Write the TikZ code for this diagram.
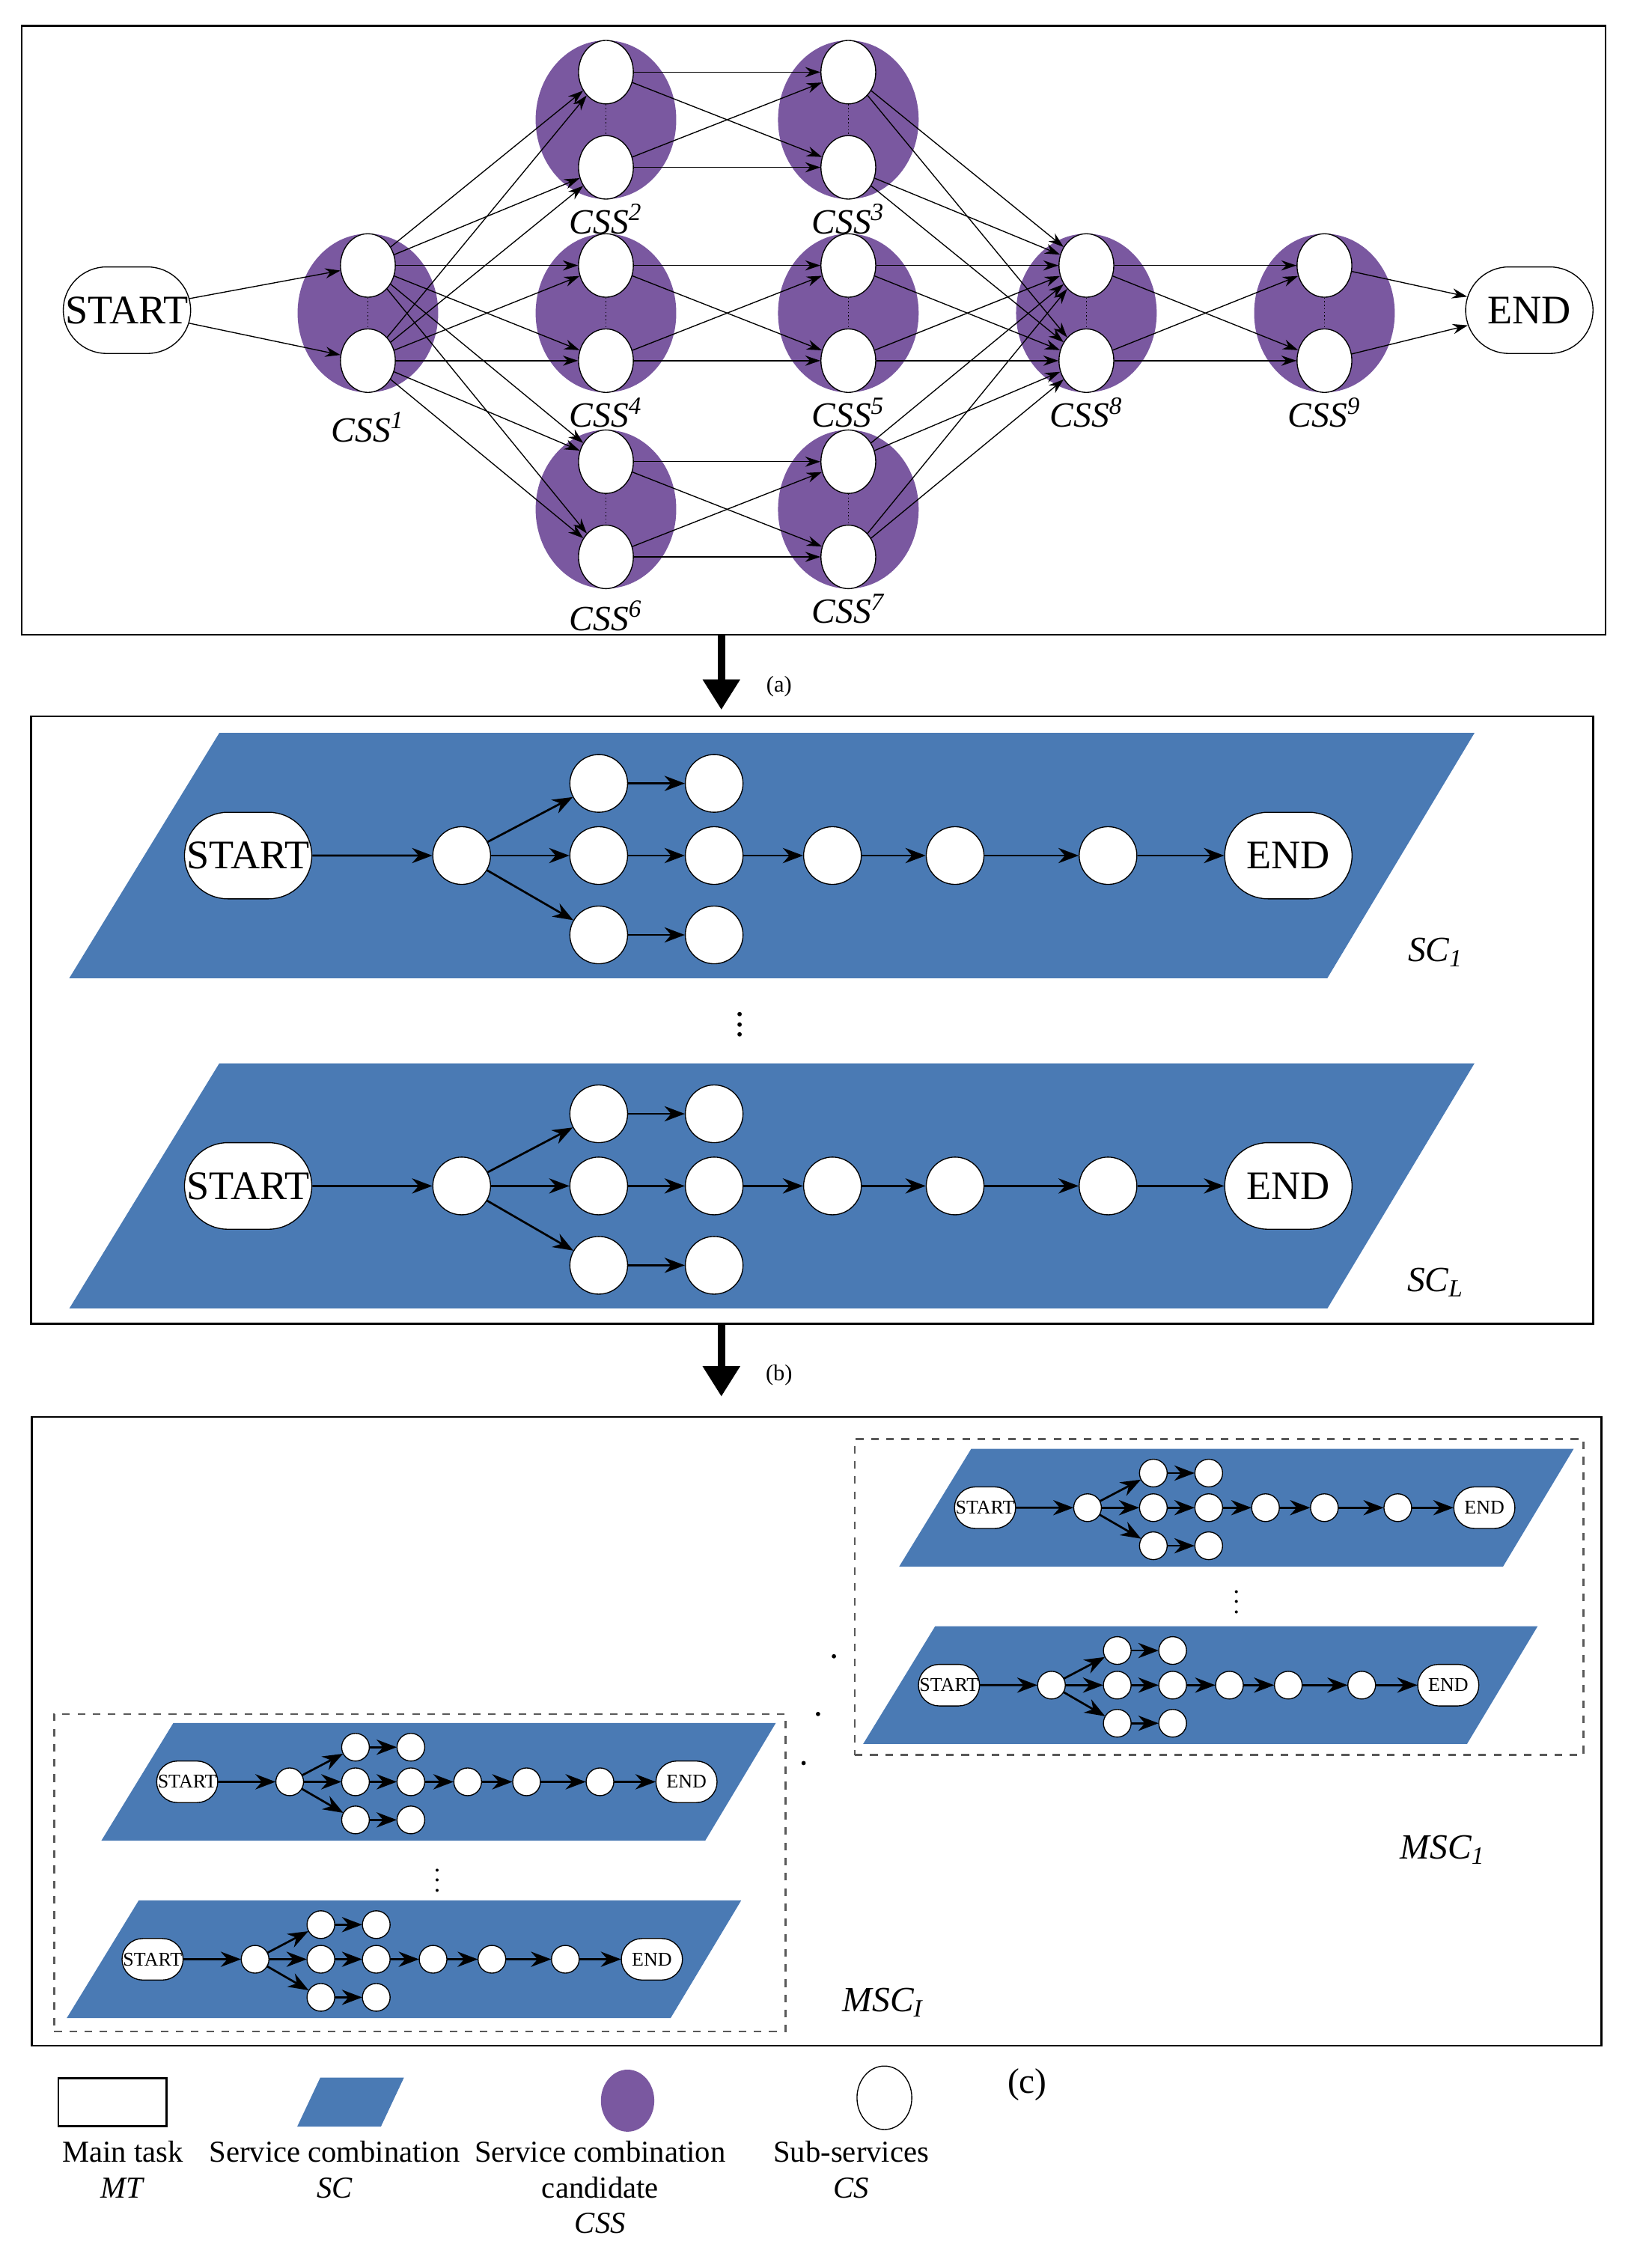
\documentclass[tikz,border=0pt]{standalone}
\usepackage{fontspec}
\setmainfont{Liberation Serif}
\usetikzlibrary{arrows.meta,shapes.geometric,shapes.misc}
\definecolor{css-color}{RGB}{122, 88, 160}
\definecolor{sc-color}{RGB}{74, 122, 180}
\tikzset{
  task/.style={draw, fill=white, rounded rectangle, minimum width=2cm, minimum height=1.2cm, font=\fontsize{16}{18}\selectfont},
  cand/.style={ellipse, fill=css-color, minimum width=1.95cm, minimum height=2.2cm, inner sep=0pt},
  sub/.style={draw, fill=white, ellipse, minimum width=0.76cm, minimum height=0.88cm, inner sep=0pt},
  cs/.style={draw, fill=white, circle, minimum size=0.8cm, inner sep=0pt},
  lnk/.style={-{Stealth[length=6pt,width=4pt]}, thin},
  flow/.style={-{Stealth[length=8pt,width=6pt]}, thick},
  lab/.style={font=\fontsize{14}{16}\selectfont\itshape},
  panel/.style={draw, thick},
  down/.style={-{Triangle[length=12pt,width=14pt]}, line width=3pt},
}
\newcommand{\scrow}[5]{% prefix, x, y, scale, label
\begin{scope}[shift={(#2,#3)}, scale=#4, transform shape]
\fill[sc-color] (-383,-85) -- (487,-85) -- (385,85) -- (-487,85) -- cycle;
\node[task] (#1s) at (-363,0) {START};
\node[cs] (#1a) at (-215,0) {};
\node[cs] (#1b1) at (-120,-50) {};
\node[cs] (#1b2) at (-120,0) {};
\node[cs] (#1b3) at (-120,55) {};
\node[cs] (#1c1) at (-40,-50) {};
\node[cs] (#1c2) at (-40,0) {};
\node[cs] (#1c3) at (-40,55) {};
\node[cs] (#1d) at (42,0) {};
\node[cs] (#1e) at (127,0) {};
\node[cs] (#1f) at (233,0) {};
\node[task] (#1t) at (358,0) {END};
\draw[flow] (#1s) -- (#1a);
\foreach \i in {1,2,3} {
  \draw[flow] (#1a) -- (#1b\i);
  \draw[flow] (#1b\i) -- (#1c\i);
}
\draw[flow] (#1c2) -- (#1d);
\draw[flow] (#1d) -- (#1e);
\draw[flow] (#1e) -- (#1f);
\draw[flow] (#1f) -- (#1t);
\node[lab] (#1l) at (460,67) {#5};
\end{scope}}

\begin{document}
\begin{tikzpicture}[x=0.02cm, y=-0.02cm]
\useasboundingbox (0,0) rectangle (1130,1572);

% (a) candidates
\node[panel, minimum width=21.96cm, minimum height=8.44cm] (pa) at (564,229) {};
\node[task] (start) at (88,215) {START};
\node[task] (end) at (1060,215) {END};
\foreach \n/\x/\y in {1/255/217, 2/420/83, 3/588/83, 4/420/217, 5/588/217, 6/420/353, 7/588/353, 8/753/217, 9/918/217} {
  \node[cand] (css\n) at (\x,\y) {};
  \node[sub] (c\n a) at (\x,\y-33) {};
  \node[sub] (c\n b) at (\x,\y+33) {};
  \draw[densely dotted, thin] (c\n a) -- (c\n b);
}
\node[lab] (l1) at (255,296) {CSS\textsuperscript{1}};
\node[lab] (l2) at (420,152) {CSS\textsuperscript{2}};
\node[lab] (l3) at (588,152) {CSS\textsuperscript{3}};
\node[lab] (l4) at (420,286) {CSS\textsuperscript{4}};
\node[lab] (l5) at (588,286) {CSS\textsuperscript{5}};
\node[lab] (l6) at (420,427) {CSS\textsuperscript{6}};
\node[lab] (l7) at (588,422) {CSS\textsuperscript{7}};
\node[lab] (l8) at (753,286) {CSS\textsuperscript{8}};
\node[lab] (l9) at (918,286) {CSS\textsuperscript{9}};
\foreach \p in {a,b} {
  \draw[lnk] (start) -- (c1\p);
  \draw[lnk] (c9\p) -- (end);
  \foreach \q in {a,b} {
    \foreach \m in {2,4,6} \draw[lnk] (c1\p) -- (c\m\q);
    \foreach \m in {3,5,7} \draw[lnk] (c\m\p) -- (c8\q);
    \draw[lnk] (c2\p) -- (c3\q);
    \draw[lnk] (c4\p) -- (c5\q);
    \draw[lnk] (c6\p) -- (c7\q);
    \draw[lnk] (c8\p) -- (c9\q);
  }
}
\draw[down] (pa.south -| 500,0) -- (500,492);
\node[font=\small] (capa) at (540,476) {(a)};

% (b) service combinations
\node[panel, minimum width=21.66cm, minimum height=8.42cm] (pb) at (563,707) {};
\scrow{u}{535}{593}{1}{SC\textsubscript{1}}
\node[font=\Large] (vd) at (513,705) {$\vdots$};
\scrow{w}{535}{822}{1}{SC\textsubscript{\textit{L}}}
\draw[down] (pb.south -| 500,0) -- (500,968);
\node[font=\small] (capb) at (540,953) {(b)};

% (c) multiple service combinations
\node[panel, minimum width=21.76cm, minimum height=8.72cm] (pc) at (566,1200) {};
\node[draw, dashed, thick, gray!70!black, minimum width=10.1cm, minimum height=4.38cm] (g1) at (845,1107) {};
\scrow{m}{857}{1045}{0.48}{}
\node (vd1) at (857,1105) {$\vdots$};
\scrow{n}{832}{1168}{0.48}{}
\node[lab] (msc1) at (1000,1282) {MSC\textsubscript{1}};
\node[draw, dashed, thick, gray!70!black, minimum width=10.14cm, minimum height=4.4cm] (g2) at (291,1298) {};
\scrow{p}{304}{1235}{0.48}{}
\node (vd2) at (303,1298) {$\vdots$};
\scrow{q}{280}{1358}{0.48}{}
\node[lab] (msci) at (612,1388) {MSC\textsubscript{\textit{I}}};
\fill (578,1148) circle (1.5) (567,1188) circle (1.5) (557,1222) circle (1.5);

% legend
\node[draw, thick, minimum width=1.5cm, minimum height=0.66cm] (kmt) at (78,1457) {};
\fill[sc-color] (222,1440) -- (280,1440) -- (264,1474) -- (206,1474) -- cycle;
\coordinate (ksc) at (243,1457);
\node[ellipse, fill=css-color, minimum width=0.74cm, minimum height=0.86cm] (kcss) at (435,1456) {};
\node[sub] (kcs) at (613,1454) {};
\node[font=\fontsize{14}{16}\selectfont] (capc) at (712,1445) {(c)};
\begin{scope}[every node/.style={font=\fontsize{12}{14}\selectfont, align=center, anchor=north, inner sep=1pt}]
\node (tmt) at (85,1482) {Main task\\\textit{MT}};
\node (tsc) at (232,1482) {Service combination\\\textit{SC}};
\node (tcss) at (416,1482) {Service combination\\candidate\\\textit{CSS}};
\node (tcs) at (590,1482) {Sub-services\\\textit{CS}};
\end{scope}
\end{tikzpicture}
\end{document}
